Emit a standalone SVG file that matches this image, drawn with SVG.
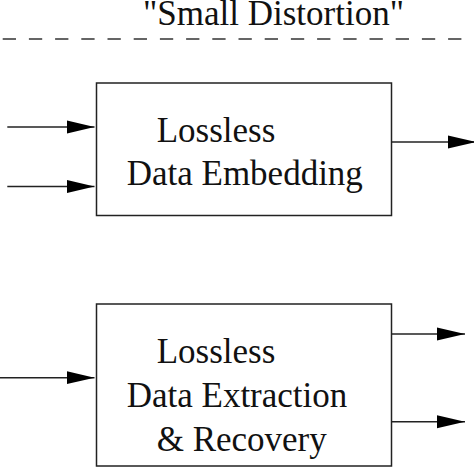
<svg xmlns="http://www.w3.org/2000/svg" width="474" height="474" viewBox="0 0 474 474">
<style>
.box{fill:#fff;stroke:#222;stroke-width:1.5}
.lbl{font-family:'Liberation Serif','Times New Roman',serif;font-size:35px;fill:#111}
.conn{stroke:#222;stroke-width:1.4;fill:none}
.dash{stroke:#333;stroke-width:1.4;stroke-dasharray:13.3 12.9;fill:none}
</style>
<defs>
<marker id="ah" markerUnits="userSpaceOnUse" markerWidth="30" markerHeight="16" refX="28" refY="7" orient="auto">
<path d="M0,0.5 L28,7 L0,13.5 Z" fill="#000"/>
</marker>
</defs>
<g id="title">
<text class="lbl" x="143" y="25">"Small Distortion"</text>
<line class="dash" x1="2.7" y1="39" x2="463" y2="39"/>
</g>
<g id="embed">
<rect class="box" x="96.5" y="83" width="295" height="132.5"/>
<text class="lbl" x="156.7" y="142.3">Lossless</text>
<text class="lbl" x="126.7" y="185">Data Embedding</text>
</g>
<g id="extract">
<rect class="box" x="96.5" y="304" width="295" height="162"/>
<text class="lbl" x="156.7" y="363.3">Lossless</text>
<text class="lbl" x="126.7" y="407.3">Data Extraction</text>
<text class="lbl" x="156.7" y="450.7">&amp; Recovery</text>
</g>
<g id="connectors">
<line class="conn" x1="7.3" y1="127" x2="94.5" y2="127" marker-end="url(#ah)"/>
<line class="conn" x1="7.3" y1="186.5" x2="94.5" y2="186.5" marker-end="url(#ah)"/>
<line class="conn" x1="391.5" y1="142" x2="476" y2="142" marker-end="url(#ah)"/>
<line class="conn" x1="0" y1="377.7" x2="94.5" y2="377.7" marker-end="url(#ah)"/>
<line class="conn" x1="391.5" y1="334" x2="465" y2="334" marker-end="url(#ah)"/>
<line class="conn" x1="391.5" y1="421.7" x2="465" y2="421.7" marker-end="url(#ah)"/>
</g>
</svg>
